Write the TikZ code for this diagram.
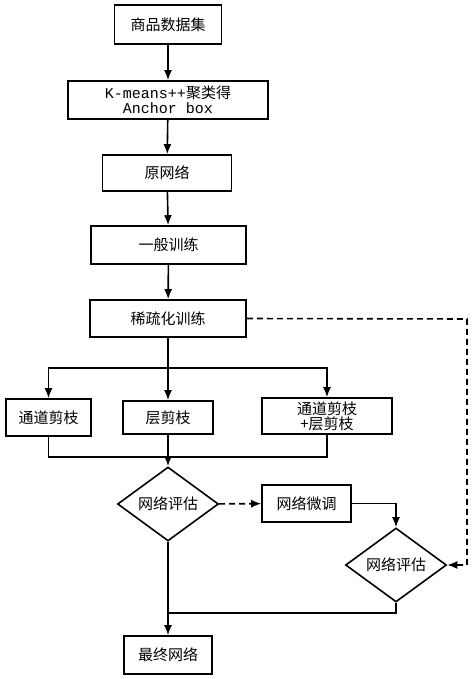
\documentclass[tikz,border=0pt]{standalone}
\usepackage{fontspec}
\setmainfont{Noto Sans CJK SC}
\setmonofont{Liberation Mono}
\usetikzlibrary{shapes.geometric,arrows.meta}

\begin{document}
\begin{tikzpicture}[x=1pt,y=-1pt,line width=1.6pt,
    box/.style={draw,rectangle,inner sep=0pt,align=center,
      font=\fontsize{15}{15}\selectfont},
    check/.style={draw,diamond,inner sep=0pt,minimum width=101pt,
      minimum height=48pt,font=\fontsize{15}{15}\selectfont},
    arr/.style={-{Latex[length=10pt,width=8pt]}},
    dash line/.style={dash pattern=on 6pt off 4pt}]
  \useasboundingbox (0,0) rectangle (474,679);
  % main column
  \node[box,minimum width=107pt,minimum height=39pt] (data) at (168,24.5) {商品数据集};
  \node[box,minimum width=200pt,minimum height=38pt] (kmeans) at (168,100)
    {\ttfamily K-means++{\rmfamily 聚类得}\\\ttfamily Anchor box};
  \node[box,minimum width=129pt,minimum height=36pt] (orig) at (167,173) {原网络};
  \node[box,minimum width=155pt,minimum height=38pt] (train) at (168.5,245) {一般训练};
  \node[box,minimum width=156pt,minimum height=37pt] (sparse) at (168,318.5) {稀疏化训练};
  % pruning
  \node[box,minimum width=85pt,minimum height=37pt] (chan) at (48.5,417.5) {通道剪枝};
  \node[box,minimum width=90pt,minimum height=33pt] (layer) at (168,417.5) {层剪枝};
  \node[box,minimum width=130pt,minimum height=36pt] (both) at (327,416) {通道剪枝\\+层剪枝};
  % evaluation
  \node[check] (eval) at (168,504) {网络评估};
  \node[box,minimum width=89pt,minimum height=37pt] (tune) at (306.5,503.5) {网络微调};
  \node[check] (evaltwo) at (396,565) {网络评估};
  \node[box,minimum width=88pt,minimum height=38pt] (final) at (168,655) {最终网络};
  \coordinate (split) at (168,368);
  \coordinate (join) at (168,457);
  \coordinate (back) at (168,613);
  \coordinate (corner) at (467,319);

  \draw[arr] (data) -- (kmeans);
  \draw[arr] (kmeans) -- (orig);
  \draw[arr] (orig) -- (train);
  \draw[arr] (train) -- (sparse);
  \draw (sparse) -- (split);
  \draw[arr] (split) -| (chan.north);
  \draw[arr] (split) -- (layer);
  \draw[arr] (split) -| (both.north);
  \draw (chan.south) |- (join);
  \draw (both.south) |- (join);
  \draw[arr] (layer) -- (eval);
  \draw[arr,dash line] (eval) -- (tune);
  \draw[arr] (tune.east) -| (evaltwo.north);
  \draw[arr,dash line] (sparse.east) -- (corner) |- (evaltwo.east);
  \draw[arr] (eval) -- (final);
  \draw (evaltwo.south) |- (back);
\end{tikzpicture}
\end{document}
